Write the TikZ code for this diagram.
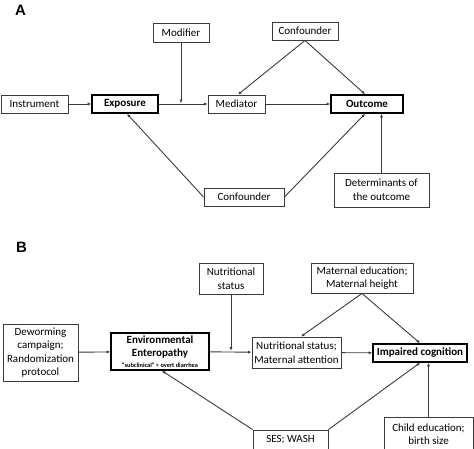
\documentclass[tikz,border=0pt]{standalone}
\usepackage{fontspec}
\setmainfont{Carlito}
\newfontfamily\arialf{Liberation Sans}
\usetikzlibrary{arrows.meta}
\definecolor{ln}{HTML}{3A3A3A}
\tikzset{
  box/.style={draw=ln, line width=0.9pt, inner sep=0pt, align=center, font=\fontsize{11}{13.5}\selectfont, text=black},
  boldbox/.style={box, draw=black, line width=1.6pt, font=\fontsize{11}{13.5}\selectfont\bfseries},
  conn/.style={draw=ln, line width=0.9pt, -{Latex[length=3.5pt,width=3pt]}},
  plain/.style={draw=ln, line width=0.9pt},
  panel/.style={font=\arialf\bfseries\fontsize{15}{15}\selectfont, inner sep=0pt}
}
\begin{document}
\begin{tikzpicture}[x=1pt,y=-1pt]
\useasboundingbox (0,0) rectangle (474,449);
\clip (0,0) rectangle (474,449);
% ---------- Panel A
\node[panel] (lA) at (20.5,10.5) {A};
\node[box, minimum width=67pt, minimum height=18pt] (inst) at (34.5,104) {Instrument};
\node[boldbox, minimum width=66pt, minimum height=18pt] (expo) at (125,104) {Exposure};
\node[box, minimum width=56pt, minimum height=19pt] (modi) at (181,32.5) {Modifier};
\node[box, minimum width=57pt, minimum height=18pt] (medi) at (236.5,104) {Mediator};
\node[box, minimum width=66pt, minimum height=18pt] (conf1) at (305,31) {Confounder};
\node[boldbox, minimum width=72pt, minimum height=18pt] (outc) at (367,104) {Outcome};
\node[box, minimum width=80pt, minimum height=18pt] (conf2) at (244,197) {Confounder};
\node[box, minimum width=95pt, minimum height=34pt] (dete) at (381.5,190) {Determinants of\\the outcome};
\coordinate (mA) at (modi.south |- expo.east);
\draw[conn] (inst) -- (expo);
\draw[conn] (expo) -- (medi);
\draw[conn, shorten >=0.8pt] (modi.south) -- (mA);
\draw[conn] (conf1.south) -- ([xshift=1.5pt]medi.north);
\draw[conn] (conf1.south) -- ([xshift=-2pt]outc.north);
\draw[conn] (medi) -- (outc);
\draw[conn] (conf2.west) -- ([xshift=2pt]expo.south);
\draw[conn] (conf2.east) -- ([xshift=-2pt]outc.south);
\draw[conn] (dete.north) -- (dete.north |- outc.south);
% ---------- Panel B
\node[panel] (lB) at (21.5,247) {B};
\node[box, minimum width=64pt, minimum height=31pt] (nut1) at (231,278.5) {Nutritional\\status};
\node[box, minimum width=102pt, minimum height=30pt] (mate) at (362,278) {Maternal education;\\Maternal height};
\node[box, minimum width=75pt, minimum height=57pt] (dewo) at (40.5,352.5) {Deworming\\campaign;\\Randomization\\protocol};
\node[boldbox, minimum width=98pt, minimum height=37pt] (envi) at (160,351.5) {Environmental\\Enteropathy\\[-3pt]{\fontsize{6.3}{7}\selectfont\bfseries ``subclinical'' > overt diarrhea}};
\node[box, minimum width=89pt, minimum height=31pt] (nutm) at (296.5,352.5) {Nutritional status;\\Maternal attention};
\node[boldbox, minimum width=94pt, minimum height=18pt] (impa) at (420,353) {Impaired cognition};
\node[box, minimum width=75pt, minimum height=20pt] (sesw) at (290.5,440) {SES; WASH};
\node[box, minimum width=89pt, minimum height=34pt] (chil) at (428.5,434) {Child education;\\birth size};
\coordinate (mB) at (nut1.south |- envi.east);
\draw[conn] (dewo) -- (envi);
\draw[conn] (envi) -- (nutm);
\draw[conn, shorten >=0.8pt] (nut1.south) -- (mB);
\draw[conn] (mate.south) -- ([xshift=4.5pt]nutm.north);
\draw[conn] (mate.south) -- (impa.north);
\draw[conn] (nutm) -- (impa);
\draw[conn] (sesw.north west) -- ([xshift=2pt]envi.south);
\draw[conn] (sesw.north east) -- (impa.south);
\draw[conn] (chil.north) -- (chil.north |- impa.south);
\end{tikzpicture}
\end{document}
